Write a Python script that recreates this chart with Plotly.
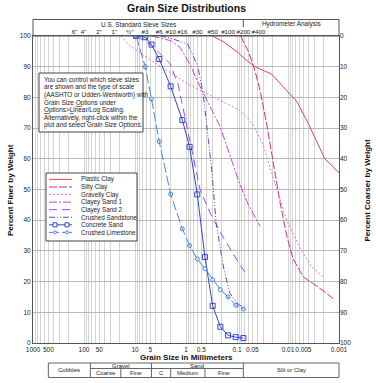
import math
import plotly.graph_objects as go

FONT = "Arial, 'Liberation Sans', Helvetica, sans-serif"

# ---------------- data (grain size mm, percent finer) ----------------
series_names = ["Plastic Clay", "Silty Clay", "Gravelly Clay", "Clayey Sand 1",
                "Clayey Sand 2", "Crushed Sandstone", "Concrete Sand", "Crushed Limestone"]

plastic_clay_mm = [0.3, 0.18, 0.094, 0.068, 0.044, 0.021, 0.0091, 0.0068, 0.004, 0.0019, 0.001]
plastic_clay_pct = [100, 98, 94.5, 92.3, 90, 87.6, 81, 78.8, 71.5, 60, 55.5]

silty_clay_mm = [0.085, 0.06, 0.045, 0.035, 0.026, 0.019, 0.0144, 0.0106, 0.008, 0.005, 0.0027, 0.0013]
silty_clay_pct = [100, 95, 89, 82, 71, 57, 46, 35, 27.5, 21.5, 18.5, 14.5]

gravelly_clay_mm = [19, 12.5, 4.75, 2.0, 0.84, 0.3, 0.18, 0.087, 0.052, 0.031, 0.021, 0.0145, 0.0106, 0.006, 0.0035, 0.0019]
gravelly_clay_pct = [100, 96.8, 92, 88, 84, 80.3, 78.5, 75.7, 71.9, 64.8, 55.5, 47, 40, 31.4, 24.9, 21.1]

clayey_sand1_mm = [4.75, 2.0, 1.31, 0.85, 0.53, 0.3, 0.214, 0.15, 0.094, 0.06, 0.035]
clayey_sand1_pct = [100, 98.5, 96.3, 91, 83.5, 75.5, 70.5, 63, 53, 45, 38]

clayey_sand2_mm = [9.5, 4.75, 2.05, 1.42, 0.84, 0.53, 0.33, 0.18, 0.1, 0.068]
clayey_sand2_pct = [100, 97, 91, 84, 66, 50, 42, 34, 27, 22.7]

sandstone_mm = [3.2, 2.0, 0.93, 0.59, 0.46, 0.37, 0.313, 0.256, 0.18, 0.138, 0.1, 0.075]
sandstone_pct = [100, 99.3, 97.4, 90.3, 81, 68, 56.4, 39, 23.8, 16.2, 13, 11.5]

concrete_sand_mm = [9.5, 6.3, 4.75, 3.35, 2.0, 1.18, 0.85, 0.6, 0.425, 0.3, 0.212, 0.15, 0.106, 0.075]
concrete_sand_pct = [100, 99.6, 97.2, 92.5, 83.6, 72.6, 63.9, 48.4, 28, 12.1, 5.3, 2.5, 1.9, 1.6]

limestone_mm = [9.5, 6.3, 4.75, 3.35, 2.0, 1.18, 0.85, 0.6, 0.425, 0.3, 0.212, 0.15, 0.106, 0.075]
limestone_pct = [100, 90, 79.5, 65.6, 48.5, 37.2, 31.7, 27.4, 24.2, 20.6, 17.4, 15, 12.3, 11.1]

x_tick_vals = [1000, 500, 100, 50, 10, 5, 1, 0.5, 0.1, 0.05, 0.01, 0.005, 0.001]
x_tick_text = ["1000", "500", "100", "50", "10", "5", "1", "0.5", "0.1", "0.05", "0.01", "0.005", "0.001"]

sieve_mm = [152.4, 101.6, 50.8, 25.4, 12.7, 6.35, 3.35, 2.0, 1.18, 0.6, 0.3, 0.15, 0.075, 0.038]
sieve_labels = ['6"', '4"', '2"', '1"', '\u00bd"', '#3', '#6', '#10', '#16', '#30', '#50', '#100', '#200', '#400']

y_tick_vals = [0, 10, 20, 30, 40, 50, 60, 70, 80, 90, 100]

# soil classification table boundaries (mm)
class_bounds_mm = [500, 75, 19, 4.75, 2.0, 0.425, 0.075, 0.001]

# ---------------- styles ----------------
styles = {
    "Plastic Clay": dict(color="#E04848", dash="solid", marker=None),
    "Silty Clay": dict(color="#D0307C", dash="8px,2px", marker=None),
    "Gravelly Clay": dict(color="#E07AB8", dash="2px,2px", marker=None),
    "Clayey Sand 1": dict(color="#C844C8", dash="8px,2px,2px,2px", marker=None),
    "Clayey Sand 2": dict(color="#A048E0", dash="8px,5px", marker=None),
    "Crushed Sandstone": dict(color="#6048C8", dash="6px,2px,1px,2px,1px,2px", marker=None),
    "Concrete Sand": dict(color="#3344D0", dash="solid", marker="square-open"),
    "Crushed Limestone": dict(color="#4C88E0", dash="10px,3px", marker="circle-open"),
}
data = {
    "Plastic Clay": (plastic_clay_mm, plastic_clay_pct),
    "Silty Clay": (silty_clay_mm, silty_clay_pct),
    "Gravelly Clay": (gravelly_clay_mm, gravelly_clay_pct),
    "Clayey Sand 1": (clayey_sand1_mm, clayey_sand1_pct),
    "Clayey Sand 2": (clayey_sand2_mm, clayey_sand2_pct),
    "Crushed Sandstone": (sandstone_mm, sandstone_pct),
    "Concrete Sand": (concrete_sand_mm, concrete_sand_pct),
    "Crushed Limestone": (limestone_mm, limestone_pct),
}

W, H = 376, 383
ML, MR, MT, MB = 33, 37, 36, 40
PW, PH = W - ML - MR, H - MT - MB


def px_x(px):
    return (px - ML) / PW


def px_y(py):
    return (H - MB - py) / PH


def size_x(d):
    return (3 - math.log10(d)) / 6.0


fig = go.Figure()
for name in series_names:
    st = styles[name]
    xs, ys = data[name]
    tr = dict(x=xs, y=ys, name=name, showlegend=False, hoverinfo="skip", cliponaxis=True,
              line=dict(color=st["color"], width=1, dash=st["dash"]))
    if st["marker"]:
        tr["mode"] = "lines+markers"
        tr["marker"] = dict(symbol=st["marker"], size=5 if st["marker"] == "square-open" else 4,
                            color=st["color"], line=dict(width=1, color=st["color"]))
    else:
        tr["mode"] = "lines"
    fig.add_trace(go.Scatter(**tr))

# dummy trace to activate secondary axes
fig.add_trace(go.Scatter(x=[1], y=[50], xaxis="x2", yaxis="y2", mode="markers",
                         marker=dict(opacity=0), showlegend=False, hoverinfo="skip"))

minor_vals = [k * 10 ** n for n in range(-3, 3) for k in range(1, 10)] + [1000]

fig.update_layout(
    width=W, height=H,
    margin=dict(l=ML, r=MR, t=MT, b=MB, autoexpand=False),
    paper_bgcolor="white", plot_bgcolor="white",
    font=dict(family=FONT, size=6.5, color="#222"),
    showlegend=False,
    xaxis=dict(type="log", range=[3, -3], tickmode="array", tickvals=x_tick_vals, ticktext=x_tick_text,
               tickangle=0, automargin=False,
               showgrid=True, gridcolor="#d4d4d4", gridwidth=1,
               minor=dict(tickvals=minor_vals, showgrid=True, gridcolor="#d4d4d4", gridwidth=1, ticks=""),
               showline=True, linecolor="#555", linewidth=1, mirror=True, ticks="",
               zeroline=False, tickfont=dict(size=6.5, color="#222")),
    xaxis2=dict(type="log", range=[3, -3], overlaying="x", side="top", tickmode="array",
                tickvals=sieve_mm, ticktext=sieve_labels, showgrid=False, showline=False,
                tickangle=0, automargin=False,
                ticks="", zeroline=False, tickfont=dict(size=6.2, color="#222")),
    yaxis=dict(range=[0, 100], tickmode="array", tickvals=y_tick_vals, showgrid=True, automargin=False,
               gridcolor="#b8b8b8", gridwidth=1, showline=True, linecolor="#555", linewidth=1,
               mirror=True, ticks="", zeroline=False, tickfont=dict(size=6.5, color="#222")),
    yaxis2=dict(range=[100, 0], overlaying="y", side="right", tickmode="array", automargin=False,
                tickvals=y_tick_vals, showgrid=False, showline=False, ticks="", zeroline=False,
                tickfont=dict(size=6.5, color="#222")),
)

shapes = []
ann = []

# header box above plot
shapes.append(dict(type="rect", xref="paper", yref="paper", x0=0, x1=1, y0=1, y1=px_y(19.5),
                   line=dict(color="#555", width=1), fillcolor="rgba(0,0,0,0)"))
shapes.append(dict(type="line", xref="paper", yref="paper", x0=size_x(0.075), x1=size_x(0.075),
                   y0=px_y(19.5), y1=px_y(27), line=dict(color="#555", width=1)))
ann.append(dict(text="U.S. Standard Sieve Sizes", x=(0 + size_x(0.075)) / 2, y=px_y(24.5)))
ann.append(dict(text="Hydrometer Analysis", x=(size_x(0.075) + 1) / 2, y=px_y(24.5)))

# title and axis titles
ann.append(dict(text="<b>Grain Size Distributions</b>", x=px_x(186.5), y=px_y(8.5),
                font=dict(size=10.5, color="#111")))
ann.append(dict(text="<b>Grain Size in Millimeters</b>", x=px_x(186.5), y=px_y(357.5),
                font=dict(size=8, color="#111")))
ann.append(dict(text="<b>Percent Finer by Weight</b>", x=px_x(10), y=px_y(190), textangle=-90,
                font=dict(size=8, color="#111")))
ann.append(dict(text="<b>Percent Coarser by Weight</b>", x=px_x(366.5), y=px_y(190), textangle=-90,
                font=dict(size=8, color="#111")))

# info box
shapes.append(dict(type="rect", xref="paper", yref="paper", x0=px_x(39), x1=px_x(143),
                   y0=px_y(132), y1=px_y(73), line=dict(color="#444", width=1), fillcolor="white",
                   layer="above"))
U = '<span style="text-decoration:underline">%s</span>'
info_lines = ["You can control which sieve sizes",
              "are shown and the type of scale",
              "(AASHTO or Udden-Wentworth) with",
              "Grain Size " + U % "O" + "ptions under",
              U % "O" + "ptions>" + U % "L" + "inear/Log Scaling.",
              "Alternatively, right-click within the",
              "plot and select Grain Size Options."]
for i, t in enumerate(info_lines):
    ann.append(dict(text=t, x=px_x(41.5), y=px_y(80 + i * 7.5), xanchor="left",
                    font=dict(size=6.4, color="#222")))

# custom legend
shapes.append(dict(type="rect", xref="paper", yref="paper", x0=px_x(46), x1=px_x(137),
                   y0=px_y(241), y1=px_y(173), line=dict(color="#444", width=1), fillcolor="white",
                   layer="above"))
for i, name in enumerate(series_names):
    st = styles[name]
    yy = 179.4 + i * 7.57
    shapes.append(dict(type="line", xref="paper", yref="paper", x0=px_x(49), x1=px_x(72),
                       y0=px_y(yy), y1=px_y(yy), layer="above",
                       line=dict(color=st["color"], width=1, dash=st["dash"])))
    if st["marker"] == "square-open":
        for mx in (55, 67):
            shapes.append(dict(type="rect", xref="paper", yref="paper", x0=px_x(mx - 2),
                               x1=px_x(mx + 2), y0=px_y(yy + 2), y1=px_y(yy - 2), layer="above",
                               line=dict(color=st["color"], width=1), fillcolor="white"))
    elif st["marker"] == "circle-open":
        for mx in (55, 67):
            shapes.append(dict(type="circle", xref="paper", yref="paper", x0=px_x(mx - 1.5),
                               x1=px_x(mx + 1.5), y0=px_y(yy + 1.5), y1=px_y(yy - 1.5), layer="above",
                               line=dict(color=st["color"], width=1), fillcolor="white"))
    ann.append(dict(text=name, x=px_x(79), y=px_y(yy), xanchor="left",
                    font=dict(size=6.3, color="#222")))

# classification table below the axis
ty0, tym, ty1 = 363, 368.5, 377.5
xb = [size_x(d) for d in class_bounds_mm]
tl = dict(color="#666", width=1)
shapes.append(dict(type="rect", xref="paper", yref="paper", x0=xb[0], x1=xb[-1],
                   y0=px_y(ty1), y1=px_y(ty0), line=tl, fillcolor="rgba(0,0,0,0)"))
shapes.append(dict(type="line", xref="paper", yref="paper", x0=xb[1], x1=xb[6],
                   y0=px_y(tym), y1=px_y(tym), line=tl))
for b in (xb[1], xb[3], xb[6]):
    shapes.append(dict(type="line", xref="paper", yref="paper", x0=b, x1=b,
                       y0=px_y(ty1), y1=px_y(ty0), line=tl))
for b in (xb[2], xb[4], xb[5]):
    shapes.append(dict(type="line", xref="paper", yref="paper", x0=b, x1=b,
                       y0=px_y(ty1), y1=px_y(tym), line=tl))
mid_full = (ty0 + ty1) / 2
mid_top = (ty0 + tym) / 2 + 0.3
mid_bot = (tym + ty1) / 2
cells = [("Cobbles", (xb[0] + xb[1]) / 2, mid_full),
         ("Gravel", (xb[1] + xb[3]) / 2, mid_top),
         ("Coarse", (xb[1] + xb[2]) / 2, mid_bot),
         ("Fine", (xb[2] + xb[3]) / 2, mid_bot),
         ("Sand", (xb[3] + xb[6]) / 2, mid_top),
         ("C", (xb[3] + xb[4]) / 2, mid_bot),
         ("Medium", (xb[4] + xb[5]) / 2, mid_bot),
         ("Fine", (xb[5] + xb[6]) / 2, mid_bot),
         ("Silt or Clay", (xb[6] + xb[7]) / 2, mid_full)]
for t, cx, cy in cells:
    ann.append(dict(text=t, x=cx, y=px_y(cy), font=dict(size=6, color="#222")))

for a in ann:
    a.setdefault("xref", "paper")
    a.setdefault("yref", "paper")
    a.setdefault("showarrow", False)
    a.setdefault("xanchor", "center")
    a.setdefault("yanchor", "middle")
    a.setdefault("font", dict(size=6.4, color="#222"))

fig.update_layout(shapes=shapes, annotations=ann)
fig.write_html("out.html", config={"displayModeBar": False},
               post_script="document.body.style.margin='0';document.body.style.padding='0';")
